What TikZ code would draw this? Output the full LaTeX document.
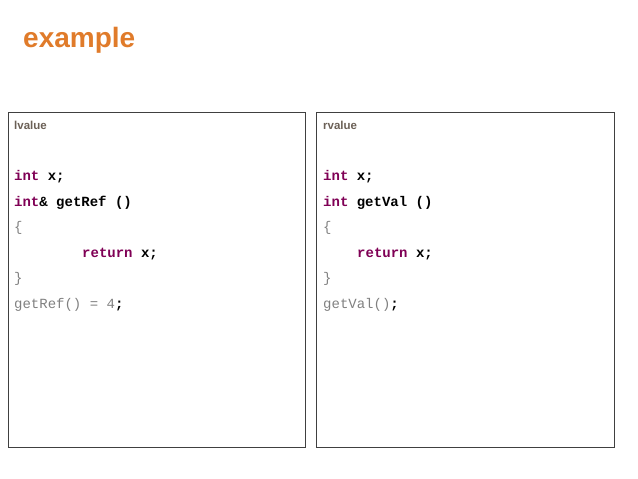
\documentclass[tikz,border=0pt]{standalone}
\usepackage{fontspec}
\setmainfont{Liberation Sans}
\setmonofont{Liberation Mono}
\definecolor{kw}{HTML}{7F0055}
\definecolor{gr}{HTML}{808080}
\definecolor{org}{HTML}{E07B2A}
\definecolor{lab}{HTML}{6B6056}
\begin{document}
\begin{tikzpicture}[x=1pt,y=-1pt,
  box/.style={draw=black!75,line width=0.8pt},
  code/.style={anchor=west,inner sep=0,font=\fontsize{14}{15}\ttfamily},
  lbl/.style={anchor=west,inner sep=0,font=\fontsize{11.5}{13}\bfseries\rmfamily,text=lab}]
\useasboundingbox (0,0) rectangle (638,479);
\node[anchor=west,inner sep=0,font=\fontsize{28}{32}\bfseries\rmfamily,text=org] (title) at (23,40) {example};
\draw[box] (8,112) rectangle (305,447);
\draw[box] (316,112) rectangle (614,447);
\newcommand\K[1]{\textcolor{kw}{\bfseries #1}}
\newcommand\G[1]{\textcolor{gr}{#1}}
\node[lbl] (l0) at (14,125) {lvalue};
\node[code] (l1) at (14,177) {\K{int} \textbf{x;}};
\node[code] (l2) at (14,203) {\K{int}\textbf{\& getRef ()}};
\node[code] (l3) at (14,228) {\G{\{}};
\node[code] (l4) at (82,254) {\K{return} \textbf{x;}};
\node[code] (l5) at (14,279) {\G{\}}};
\node[code] (l6) at (14,305) {\G{getRef() = 4}\textbf{;}};
\node[lbl] (r0) at (323,125) {rvalue};
\node[code] (r1) at (323,177) {\K{int} \textbf{x;}};
\node[code] (r2) at (323,203) {\K{int} \textbf{getVal ()}};
\node[code] (r3) at (323,228) {\G{\{}};
\node[code] (r4) at (357,254) {\K{return} \textbf{x;}};
\node[code] (r5) at (323,279) {\G{\}}};
\node[code] (r6) at (323,305) {\G{getVal()}\textbf{;}};
\end{tikzpicture}
\end{document}
